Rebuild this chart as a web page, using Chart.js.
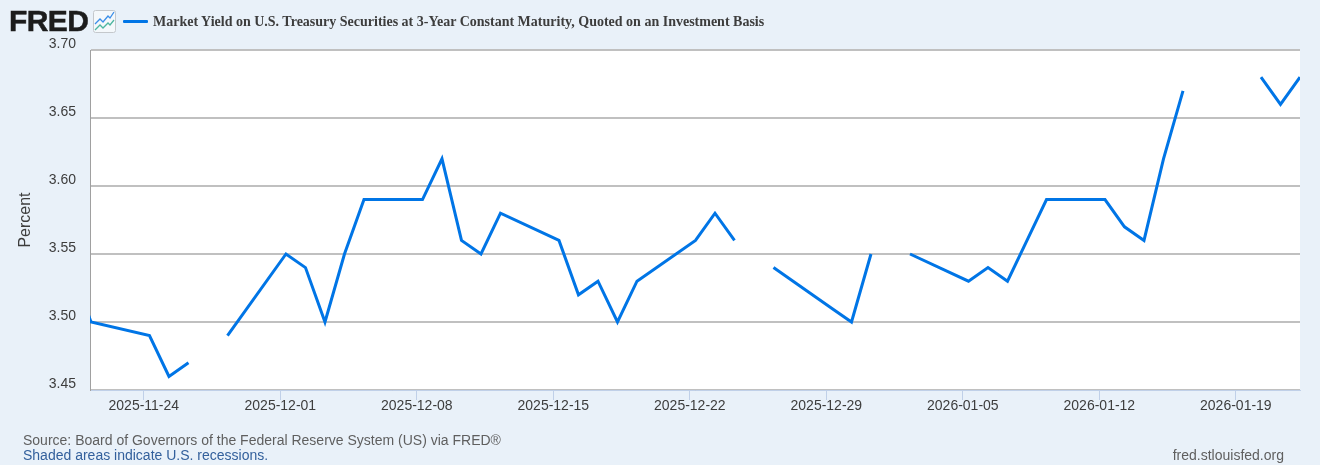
<!DOCTYPE html>
<html><head><meta charset="utf-8">
<script src="https://cdn.jsdelivr.net/npm/chart.js@4"></script>
<style>
html,body{margin:0;padding:0;background:#e9f1f9;width:1320px;height:465px;overflow:hidden;font-family:"Liberation Sans",sans-serif}
#wrap{position:absolute;left:0;top:0;width:1320px;height:465px}
.t{position:absolute;white-space:nowrap}
#logo{left:9px;top:4px;font:900 30px/34px "Liberation Sans";color:#1c1c1c;letter-spacing:-0.6px;-webkit-text-stroke:.5px #1c1c1c}
#icon{position:absolute;left:93px;top:10px;width:23px;height:23px}
#swatch{position:absolute;left:123px;top:20px;width:25px;height:3px;background:#0075e6;border-radius:1px}
#ttl{left:153px;top:13px;font:bold 14px/17px "Liberation Serif";color:#3d3d3d}
#src{left:23px;top:432px;font:14px/16px "Liberation Sans";color:#5f5f5f}
#rec{left:23px;top:447px;font:14px/16px "Liberation Sans";color:#33609c}
#url{right:36px;top:447px;font:14px/17px "Liberation Sans";color:#5f5f5f}
</style></head><body>
<div id="wrap"><canvas id="c" width="1320" height="465" style="width:1320px;height:465px;display:block"></canvas>
<div class="t" id="logo">FRED</div>
<svg id="icon" viewBox="0 0 23 23"><rect x=".5" y=".5" width="22" height="22" rx="2" fill="#f4f8fb" stroke="#c4c8cc"/><polyline points="2,14 7,9 10,12 15,6 17,8 21,2" fill="none" stroke="#3b8ee8" stroke-width="1.3"/><polyline points="2,20 7,15 10,18 15,13 17,15 21,10" fill="none" stroke="#4db6a0" stroke-width="1.3"/></svg>
<div id="swatch"></div>
<div class="t" id="ttl">Market Yield on U.S. Treasury Securities at 3-Year Constant Maturity, Quoted on an Investment Basis</div>
<div class="t" id="src">Source: Board of Governors of the Federal Reserve System (US) via FRED®</div>
<div class="t" id="rec">Shaded areas indicate U.S. recessions.</div>
<div class="t" id="url">fred.stlouisfed.org</div>
</div>
<script>
const dates=["2025-11-20","2025-11-21","2025-11-24","2025-11-25","2025-11-26","2025-11-27","2025-11-28","2025-12-01","2025-12-02","2025-12-03","2025-12-04","2025-12-05","2025-12-08","2025-12-09","2025-12-10","2025-12-11","2025-12-12","2025-12-15","2025-12-16","2025-12-17","2025-12-18","2025-12-19","2025-12-22","2025-12-23","2025-12-24","2025-12-25","2025-12-26","2025-12-29","2025-12-30","2025-12-31","2026-01-01","2026-01-02","2026-01-05","2026-01-06","2026-01-07","2026-01-08","2026-01-09","2026-01-12","2026-01-13","2026-01-14","2026-01-15","2026-01-16","2026-01-19","2026-01-20","2026-01-21","2026-01-22"];
const yields=[3.54,3.50,3.49,3.46,3.47,null,3.49,3.55,3.54,3.50,3.55,3.59,3.59,3.62,3.56,3.55,3.58,3.56,3.52,3.53,3.50,3.53,3.56,3.58,3.56,null,3.54,3.51,3.50,3.55,null,3.55,3.53,3.54,3.53,3.56,3.59,3.59,3.57,3.56,3.62,3.67,null,3.68,3.66,3.68];
const xTickLabels=["2025-11-24","2025-12-01","2025-12-08","2025-12-15","2025-12-22","2025-12-29","2026-01-05","2026-01-12","2026-01-19"];
const yTicks=[3.45,3.50,3.55,3.60,3.65,3.70];
const dayOf=s=>Date.parse(s+"T00:00:00Z")/86400000;
const tickShift=0.29;
new Chart(document.getElementById('c'),{
 type:'line',
 data:{datasets:[{label:'Market Yield',data:dates.map((d,i)=>({x:dayOf(d),y:yields[i]})),borderColor:'#0075e6',borderWidth:3,pointRadius:0,tension:0,spanGaps:false,borderCapStyle:'butt',borderJoinStyle:'miter'}]},
 options:{responsive:false,animation:false,devicePixelRatio:1,
  layout:{padding:{top:50,right:20,left:0,bottom:0}},
  plugins:{legend:{display:false},tooltip:{enabled:false}},
  scales:{
   x:{type:'linear',min:dayOf("2025-11-21")-0.05,max:dayOf("2026-01-22"),
    afterBuildTicks:s=>{s.ticks=xTickLabels.map(l=>({value:dayOf(l)-tickShift}));},
    afterFit:s=>{s.height=75;},
    grid:{drawOnChartArea:false,drawTicks:true,tickLength:10,color:'#c0d0e8',lineWidth:1},
    border:{display:true,color:'#c0d0e8',width:1},
    ticks:{autoSkip:false,maxRotation:0,padding:-2,color:'#3d3d3d',font:{family:'"Liberation Sans"',size:14},
     callback:v=>new Date((v+tickShift)*86400000).toISOString().slice(0,10)}},
   y:{min:3.45,max:3.70,
    afterBuildTicks:s=>{s.ticks=yTicks.map(v=>({value:v}));},
    afterFit:s=>{s.width=90;},
    title:{display:true,text:'Percent',color:'#3d3d3d',font:{family:'"Liberation Sans"',size:16},padding:{top:16,bottom:0}},
    grid:{color:'#c0c0c0',lineWidth:2,drawTicks:false},
    border:{display:true,color:'#a0a0a0',width:1},
    ticks:{padding:14,color:'#3d3d3d',font:{family:'"Liberation Sans"',size:14,lineHeight:0.86},
     callback:v=>[v.toFixed(2),'']}}
  }},
 plugins:[{id:'bg',beforeDraw(c){const a=c.chartArea,x=c.ctx;x.save();x.fillStyle='#fff';x.fillRect(a.left,a.top,a.right-a.left,a.bottom-a.top);x.restore();}}]
});
</script>
</body></html>
